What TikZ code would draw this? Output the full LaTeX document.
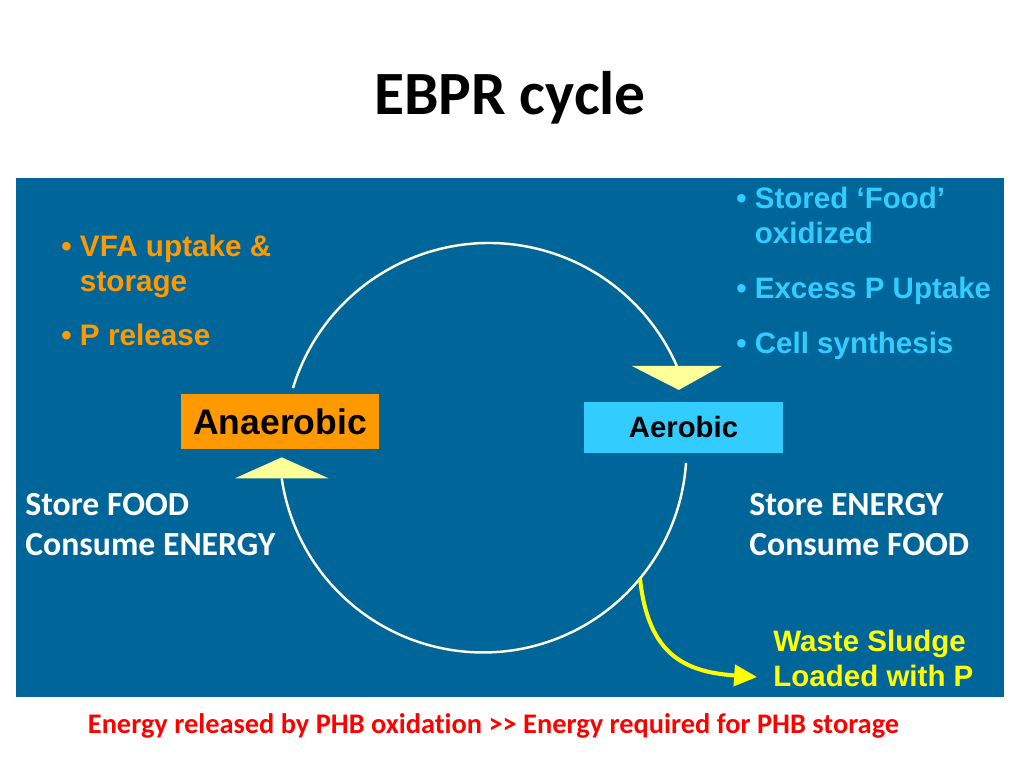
\documentclass[tikz,border=0pt]{standalone}
\usepackage{fontspec}
\setmainfont{Carlito}[Ligatures=NoCommon]
\newfontfamily\arialfont{Liberation Sans}
\usetikzlibrary{calc, arrows.meta}
\definecolor{slideblue}{HTML}{006699}
\definecolor{anaorange}{HTML}{FF9900}
\definecolor{aerocyan}{HTML}{33CCFF}
\definecolor{arcwhite}{HTML}{FFFFE8}
\definecolor{headyellow}{HTML}{FFFF99}
\definecolor{sludgeyellow}{HTML}{FFFF00}
\definecolor{notered}{HTML}{FF0000}

\begin{document}
\begin{tikzpicture}[
    x=0.02cm, y=0.02cm,
    cyclearc/.style={line width=1.4pt, arcwhite},
    arrowhead/.style={fill=headyellow},
    phasebox/.style={inner sep=0pt, text=black},
    bullettext/.style={anchor=base west, align=left, inner sep=0pt},
    energytext/.style={anchor=base west, align=left, inner sep=0pt, text=white,
        font=\bfseries\fontsize{19.2}{22.7}\selectfont},
    >={Triangle[length=13pt, width=12pt]}
]

\useasboundingbox (0,0) rectangle (1020,765);

% Title
\node[anchor=base, font=\bfseries\fontsize{35}{40}\selectfont] (title) at (510,650) {EBPR cycle};

% Slide Background
\fill[slideblue] (16,68) rectangle (1004,587);

% Phase Boxes
\node[phasebox, fill=anaorange, minimum width=3.96cm, minimum height=1.1cm,
    font=\arialfont\bfseries\fontsize{20.2}{24}\selectfont] (anaerobic) at (280,343.5) {Anaerobic};
\node[phasebox, fill=aerocyan, minimum width=3.98cm, minimum height=1.02cm,
    font=\arialfont\bfseries\fontsize{16.7}{20}\selectfont] (aerobic) at (683.5,337.5) {Aerobic};

% Cycle Arcs
\coordinate (TopC) at (489,317);
\coordinate (BotC) at (483,316);
\coordinate (anaOut) at ($(TopC)+(163:205)$);
\coordinate (aeroOut) at ($(BotC)+(-3.9:203.5)$);
\coordinate (sludgeOut) at ($(BotC)+(-39.5:203.5)$);
\draw[cyclearc] (anaOut) arc[start angle=163, end angle=23.6, radius=4.1cm] coordinate (aeroIn);
\draw[cyclearc] (aeroOut) arc[start angle=-3.9, end angle=-171.7, radius=4.07cm] coordinate (anaIn);

% Arrow Heads
\fill[arrowhead] ($(aeroIn)+(-45,0)$) -- ($(aeroIn)+(45,0)$) -- ($(aeroIn)+(2,-24)$) -- cycle;
\fill[arrowhead] ($(anaIn)+(-47,0)$) -- ($(anaIn)+(47,0)$) -- ($(anaIn)+(0,21)$) -- cycle;

% Waste Sludge
\coordinate (sludgeTip) at (757,88);
\draw[->, line width=2.3pt, sludgeyellow] (sludgeOut) .. controls (648,110) and (685,93) .. (sludgeTip);
\node[bullettext, text=sludgeyellow, font=\arialfont\bfseries\fontsize{16.8}{19.8}\selectfont]
    (sludge) at (773,78.3) {Waste Sludge\\Loaded with P};

% Anaerobic Bullets
\node[bullettext, text=anaorange, font=\arialfont\bfseries\fontsize{16.9}{19.5}\selectfont]
    (vfa) at (61,474) {• VFA uptake \&\\\hphantom{• }storage};
\node[bullettext, text=anaorange, font=\arialfont\bfseries\fontsize{16.9}{19.5}\selectfont]
    (prel) at (61,420) {• P release};

% Aerobic Bullets
\node[bullettext, text=aerocyan, font=\arialfont\bfseries\fontsize{16.8}{20.4}\selectfont]
    (stored) at (736,521) {• Stored ‘Food’\\\hphantom{• }oxidized};
\node[bullettext, text=aerocyan, font=\arialfont\bfseries\fontsize{16.8}{20.4}\selectfont]
    (excess) at (736,467) {• Excess P Uptake};
\node[bullettext, text=aerocyan, font=\arialfont\bfseries\fontsize{16.8}{20.4}\selectfont]
    (cell) at (736,412) {• Cell synthesis};

% Food / Energy
\node[energytext] (anaEnergy) at (25,210) {Store FOOD\\Consume ENERGY};
\node[energytext] (aeroEnergy) at (749,209.3) {Store ENERGY\\Consume FOOD};

% Footnote
\node[anchor=base, text=notered, font=\bfseries\fontsize{16.15}{19}\selectfont]
    (note) at (493.5,32) {Energy released by PHB oxidation >\kern0pt> Energy required for PHB storage};

\end{tikzpicture}
\end{document}
